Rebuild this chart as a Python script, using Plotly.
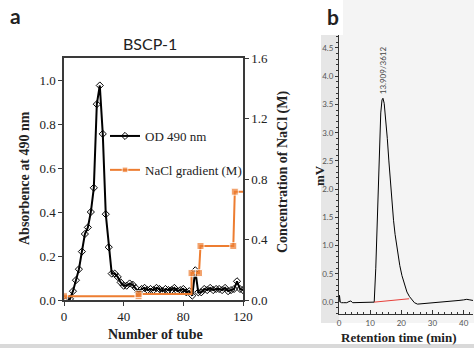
import plotly.graph_objects as go

W, H = 474, 348

# ---------------- Panel a data ----------------
tubes = [2, 4, 6, 8, 10, 12, 14, 16, 18, 20, 22, 24, 26, 28, 30, 32, 34, 36, 38, 40,
         42, 44, 46, 48, 50, 52, 54, 56, 58, 60, 62, 64, 66, 68, 70, 72, 74, 76, 78, 80,
         82, 84, 86, 88, 90, 92, 94, 96, 98, 100, 102, 104, 106, 108, 110, 112, 114, 116, 118, 120]
od490 = [0.0, 0.005, 0.04, 0.09, 0.14, 0.22, 0.30, 0.33, 0.40, 0.51, 0.89, 0.975, 0.755, 0.39, 0.24, 0.12,
         0.12, 0.105, 0.08, 0.065, 0.065, 0.075, 0.07, 0.055, 0.035, 0.05, 0.055, 0.045, 0.05, 0.045,
         0.055, 0.05, 0.04, 0.05, 0.045, 0.045, 0.055, 0.04, 0.045, 0.05, 0.035, 0.04, 0.02, 0.135,
         0.035, 0.035, 0.05, 0.045, 0.055, 0.045, 0.05, 0.05, 0.045, 0.055, 0.04, 0.045, 0.05, 0.085,
         0.05, 0.045]

nacl_tubes = [0, 50, 50, 85.5, 85.5, 90.5, 91.5, 113.5, 114.5, 120]
nacl_conc = [0.025, 0.025, 0.04, 0.04, 0.178, 0.178, 0.357, 0.357, 0.716, 0.716]
nacl_marker_size = [7, 7, 7, 0, 7, 7, 7, 7, 7, 0]

# ---------------- Panel b data ----------------
ret_time = [0, 0.15, 0.4, 0.8, 1.5, 2.5, 3.2, 3.8, 4.4, 6, 8, 10, 11.0, 11.3, 11.8, 12.2, 12.6,
            13.0, 13.4, 13.8, 14.1, 14.5, 15.0, 15.5, 16.0, 16.5, 17.0, 17.5, 18.0, 18.5, 19.0,
            19.5, 20.2, 21.0, 21.8, 22.6, 23.4, 24.2, 25.2, 26.5, 28, 30, 32, 34, 36.7, 38.5,
            40, 41, 42, 43]
mv_signal = [0.0, 0.12, 0.0, -0.01, -0.01, -0.01, 0.01, 0.02, -0.01, -0.01, -0.01, -0.01, -0.01,
             0.0, 0.6, 1.4, 2.2, 2.9, 3.35, 3.58, 3.61, 3.52, 3.25, 2.9, 2.5, 2.1, 1.72, 1.45, 1.2,
             1.0, 0.82, 0.65, 0.47, 0.31, 0.18, 0.1, 0.04, -0.01, -0.035, -0.03, -0.02, -0.01, -0.005,
             0.0, 0.02, 0.03, 0.04, 0.05, 0.04, 0.03]
base_time = [11.3, 22.5]
base_mv = [0.0, 0.06]

peak_label = "13.909/3612"
peak_pos = (14.1, 3.61)


def px(x):
    return x / W


def py(y):
    return 1 - y / H


SERIF = "Liberation Serif, Times New Roman, serif"
SANS = "Lato, Arial, sans-serif"
AX = "#3a3a3a"

fig = go.Figure()

fig.add_trace(go.Scatter(
    x=tubes, y=od490, mode="lines+markers", name="OD 490 nm",
    line=dict(color="black", width=2),
    marker=dict(symbol="diamond-open", size=5.5, color="black", line=dict(width=1)),
    xaxis="x", yaxis="y", legendgroup="a1"))

fig.add_trace(go.Scatter(
    x=nacl_tubes, y=nacl_conc, mode="lines+markers", name="NaCl gradient (M)",
    line=dict(color="#ed7d31", width=2),
    marker=dict(symbol="square", size=nacl_marker_size, color="#ed7d31"),
    xaxis="x", yaxis="y2", legendgroup="a2"))

fig.add_trace(go.Scatter(
    x=ret_time, y=mv_signal, mode="lines", showlegend=False,
    line=dict(color="black", width=1), xaxis="x3", yaxis="y3"))

fig.add_trace(go.Scatter(
    x=base_time, y=base_mv, mode="lines", showlegend=False,
    line=dict(color="#e8403a", width=1), xaxis="x3", yaxis="y3"))

tickfont_a = dict(family=SERIF, size=13, color="#222")
tickfont_b = dict(family=SANS, size=8, color="#555")

fig.update_layout(
    template="none",
    width=W, height=H, autosize=False,
    margin=dict(l=0, r=0, t=0, b=0, pad=0),
    paper_bgcolor="white", plot_bgcolor="rgba(0,0,0,0)",
    showlegend=True,
    legend=dict(x=px(105), y=py(121), xanchor="left", yanchor="top",
                bgcolor="rgba(0,0,0,0)", font=dict(family=SERIF, size=13, color="#222"),
                tracegroupgap=14, itemwidth=30),
    xaxis=dict(domain=[px(64), px(243)], range=[0, 120], tickvals=[0, 40, 80, 120],
               anchor="y", showline=True, linecolor=AX, linewidth=1.5, mirror=True,
               ticks="outside", ticklen=4, tickcolor=AX, showgrid=False, zeroline=False,
               tickfont=tickfont_a, automargin=False),
    yaxis=dict(domain=[py(300), py(58)], range=[0, 1.1], dtick=0.2, tickformat=".1f",
               anchor="x", showline=True, linecolor=AX, linewidth=1.5,
               ticks="outside", ticklen=4, tickcolor=AX, showgrid=False, zeroline=False,
               tickfont=tickfont_a, automargin=False),
    yaxis2=dict(range=[0, 1.6], dtick=0.4, tickformat=".1f", overlaying="y", side="right",
                anchor="x", showline=True, linecolor=AX, linewidth=1.5,
                ticks="outside", ticklen=4, tickcolor=AX, showgrid=False, zeroline=False,
                tickfont=tickfont_a, automargin=False),
    xaxis3=dict(domain=[px(339), px(473)], range=[0, 43], dtick=10, anchor="y3",
                showline=True, linecolor="#333", linewidth=1, ticks="inside", ticklen=4,
                tickcolor="#333", minor=dict(dtick=2, ticks="inside", ticklen=2, tickcolor="#333"),
                showgrid=False, zeroline=False, tickfont=tickfont_b, automargin=False,
                ticklabelstandoff=1),
    yaxis3=dict(domain=[py(314), py(35)], range=[-0.21, 4.73], dtick=0.5, tickformat=".1f",
                anchor="x3", showline=True, linecolor="#333", linewidth=1, ticks="outside",
                ticklen=3, tickcolor="#333",
                minor=dict(dtick=0.1, ticks="outside", ticklen=2, tickcolor="#333"),
                showgrid=False, zeroline=False, tickfont=tickfont_b, automargin=False),
)

shapes = [
    dict(type="rect", xref="paper", yref="paper", x0=px(343), x1=1, y0=py(35), y1=1,
         fillcolor="#f4f4f4", line=dict(width=0), layer="below"),
    dict(type="rect", xref="paper", yref="paper", x0=px(321), x1=1, y0=py(323), y1=py(35),
         fillcolor="#f4f4f4", line=dict(width=0), layer="below"),
    dict(type="rect", xref="paper", yref="paper", x0=px(321), x1=px(339), y0=py(323), y1=py(35),
         fillcolor="#e6e6e6", line=dict(width=0), layer="below"),
    dict(type="rect", xref="paper", yref="paper", x0=0, x1=1, y0=0, y1=py(344),
         fillcolor="#d9d9d9", line=dict(width=0), layer="below"),
]
fig.update_layout(shapes=shapes)

ann = [
    dict(text="<b>a</b>", x=px(15), y=py(15), font=dict(family=SANS, size=21, color="#222")),
    dict(text="<b>b</b>", x=px(333), y=py(17), font=dict(family=SANS, size=21, color="#222")),
    dict(text="BSCP-1", x=px(150), y=py(43), font=dict(family=SANS, size=16, color="#222")),
    dict(text="<b>Number of tube</b>", x=px(155), y=py(334), font=dict(family=SERIF, size=14, color="#222")),
    dict(text="<b>Absorbence at 490 nm</b>", x=px(24), y=py(178), textangle=-90,
         font=dict(family=SERIF, size=14, color="#222")),
    dict(text="<b>Concentration of NaCl (M)</b>", x=px(283), y=py(172), textangle=-90,
         font=dict(family=SERIF, size=14, color="#222")),
    dict(text="<b>mV</b>", x=px(319), y=py(176), textangle=-90,
         font=dict(family=SERIF, size=13, color="#222")),
    dict(text="<b>Retention time (min)</b>", x=px(399), y=py(337),
         font=dict(family=SERIF, size=13, color="#222")),
]
for a in ann:
    a.update(xref="paper", yref="paper", showarrow=False, xanchor="center", yanchor="middle")

ann.append(dict(text=peak_label, x=peak_pos[0], y=peak_pos[1], xref="x3", yref="y3",
                showarrow=False, textangle=-90, xanchor="center", yanchor="bottom",
                yshift=2, font=dict(family=SANS, size=8, color="#444")))
fig.update_layout(annotations=ann)

fig.write_html("out.html")
